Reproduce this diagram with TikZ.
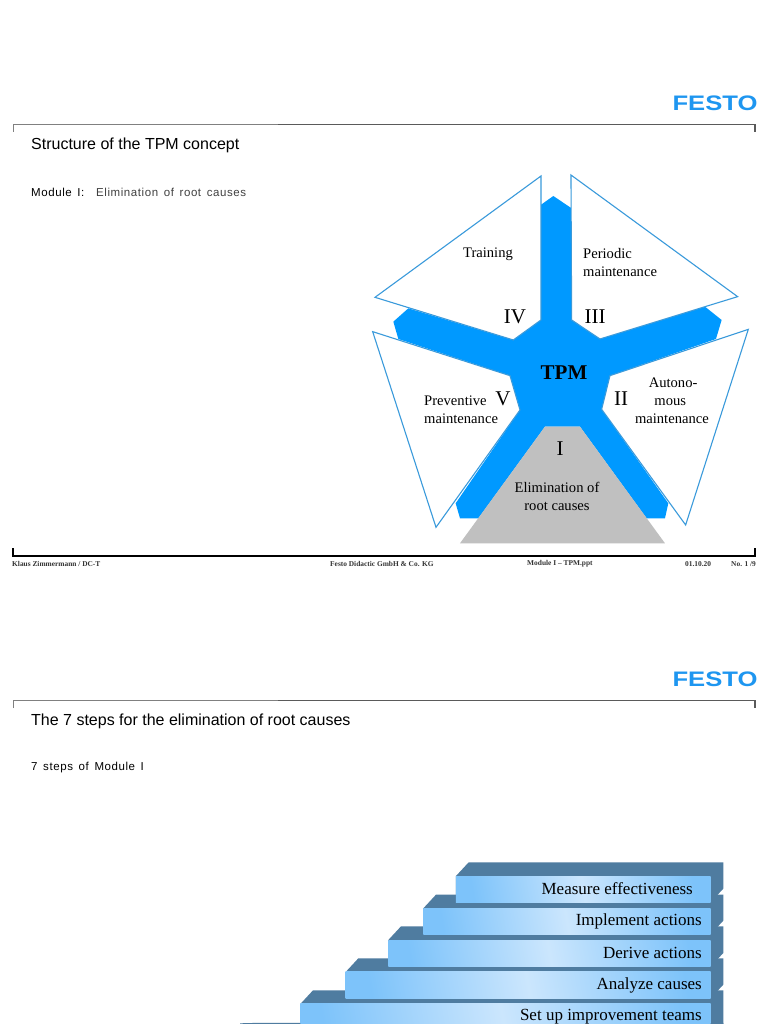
\documentclass[tikz,border=0pt]{standalone}
\usepackage{fontspec}
\setmainfont{Liberation Serif}
\newfontfamily\ttlfont[WordSpace=1.9]{Liberation Sans}
\newfontfamily\subfont[WordSpace=1.5,LetterSpace=5]{Liberation Sans}
\newfontfamily\logofont{Liberation Sans}
\definecolor{tpmblue}{HTML}{0099FF}
\definecolor{edgeblue}{HTML}{3A9ADB}
\definecolor{capgray}{HTML}{C0C0C0}
\definecolor{stepdark}{HTML}{4F7CA0}
\definecolor{stepedge}{HTML}{7DC3FA}
\definecolor{stepmid}{HTML}{CBE6FD}
\definecolor{logoblue}{HTML}{1E96F0}
\definecolor{framegray}{HTML}{808080}
\tikzset{
  petal/.style={draw=edgeblue,line width=1.1pt,fill=white,line join=miter},
  lbl/.style={inner sep=0pt,align=center,font=\fontsize{14.6}{18}\selectfont},
  num/.style={inner sep=0pt,font=\fontsize{21}{24}\selectfont},
  steplbl/.style={inner sep=0pt,anchor=east,font=\fontsize{17}{20}\selectfont},
  foot/.style={inner sep=0pt,anchor=west,font=\fontsize{7.4}{9}\selectfont\bfseries,text=black!80},
  ttl/.style={inner sep=0pt,anchor=west,font=\fontsize{16}{20}\ttlfont},
  sub/.style={inner sep=0pt,anchor=west,font=\fontsize{11.5}{14}\subfont},
  logo/.style={inner sep=0pt,text=logoblue,font=\fontsize{21}{24}\logofont\bfseries},
  topface/.style={fill=stepdark},
  frontface/.style={left color=stepedge,right color=stepedge,middle color=stepmid,shading angle=100},
}
\begin{document}
\begin{tikzpicture}[x=1pt,y=-1pt]
\useasboundingbox (0,0) rectangle (768,1024);
\clip (0,0) rectangle (768,1024);
\fill[white] (0,0) rectangle (768,1024);
% slide 1 frame
\node[logo] (logoa) at (715,103.5) {\scalebox{1.22}[1]{FESTO}};
\draw[framegray,line width=0.7pt] (13,132) -- (13,124.5) -- (278,124.5);
\draw[framegray!70!black,line width=1.2pt] (278,124.5) -- (755,124.5) -- (755,132);
\draw[black,line width=1.2pt] (13,548) -- (13,556) -- (755,556) -- (755,548);
\node[ttl] (titlea) at (31,145) {Structure of the TPM concept};
\node[sub] (moda) at (31,192) {\fontsize{11.5}{14}\selectfont\textcolor{black}{Module I:}};
\node[sub,text=black!75] (elim) at (96,192) {Elimination of root causes};
\node[foot] (f1) at (12,564) {Klaus Zimmermann / DC-T};
\node[foot] (f2) at (330,564) {Festo Didactic GmbH \& Co. KG};
\node[foot] (f3) at (527,564) {Module I – TPM.ppt};
\node[foot] (f4) at (685,564) {01.10.20};
\node[foot] (f5) at (731,564) {No. 1 /9};
% pentagon
\begin{scope}[shift={(360,165)},x=0.3333pt,y=-0.3333pt]
\fill[tpmblue] (580,93) -- (635,130) -- (635,465) -- (720,522) -- (1035,425) -- (1085,465) -- (1068,522)
  -- (750,632) -- (725,733) -- (925,1015) -- (915,1060) -- (860,1060) -- (660,785) -- (555,785)
  -- (355,1060) -- (300,1060) -- (287,1015) -- (480,735) -- (450,632) -- (115,522) -- (100,470)
  -- (145,430) -- (460,525) -- (542,465) -- (542,120) -- cycle;
\draw[petal] (543,33) -- (543,465) -- (460,525) -- (45,397) -- cycle;
\draw[petal] (633,30) -- (635,465) -- (720,522) -- (1133,395) -- cycle;
\draw[petal] (38,500) -- (450,632) -- (480,735) -- (228,1087) -- cycle;
\draw[petal] (1165,493) -- (750,632) -- (725,733) -- (977,1080) -- cycle;
\fill[capgray] (555,785) -- (660,785) -- (915,1135) -- (300,1135) -- cycle;
\end{scope}
\node[lbl] (tr) at (488,254) {Training};
\node[lbl,align=left,anchor=west] (pe) at (583,263) {Periodic\\maintenance};
\node[lbl,align=right,anchor=east] (au) at (709,401) {Autono-\phantom{m}\\mous\phantom{mm}\\maintenance};
\node[lbl,align=left,anchor=west] (pr) at (424,410) {Preventive\\maintenance};
\node[lbl] (el) at (557,496) {Elimination of\\root causes};
\node[num] (n4) at (515,317) {IV};
\node[num] (n3) at (595,317) {III};
\node[num] (n5) at (503,399) {V};
\node[num] (n2) at (621,399) {II};
\node[num] (n1) at (560,449) {I};
\node[inner sep=0pt,font=\fontsize{21}{24}\selectfont\bfseries] (tpm) at (564,373) {TPM};
% slide 2 frame
\node[logo] (logob) at (715,679.5) {\scalebox{1.22}[1]{FESTO}};
\draw[framegray,line width=0.7pt] (13,708) -- (13,700.5) -- (278,700.5);
\draw[framegray!70!black,line width=1.2pt] (278,700.5) -- (755,700.5) -- (755,708);
\node[ttl] (titleb) at (31,721) {The 7 steps for the elimination of root causes};
\node[sub,font=\fontsize{11.5}{14}\subfont] (modb) at (31,768) {7 steps of Module I};
% steps
\begin{scope}[shift={(260,850)},x=0.3333pt,y=-0.3333pt]
\fill[topface] (-60,520) -- (-22,519) -- (1390,519) -- (1390,560) -- (-60,560) -- cycle;
\foreach \xa/\ya/\yb in {121/462/640, 257/366/445, 385/270/350, 490/175/253, 588/78/157}{
  \fill[topface] (\xa,\ya) -- (\xa+38,\ya-41) -- (1390,\ya-41) -- (1390,\yb-41) -- (1352,\yb) -- (\xa,\yb) -- cycle;
  \path[frontface] (\xa,\ya) rectangle (1352,\yb);
}
\end{scope}
\node[steplbl] (s5) at (693,889) {Measure effectiveness};
\node[steplbl] (s4) at (702,921) {Implement actions};
\node[steplbl] (s3) at (702,953) {Derive actions};
\node[steplbl] (s2) at (702,985) {Analyze causes};
\node[steplbl] (s1) at (702,1017) {Set up improvement teams};
\end{tikzpicture}
\end{document}
